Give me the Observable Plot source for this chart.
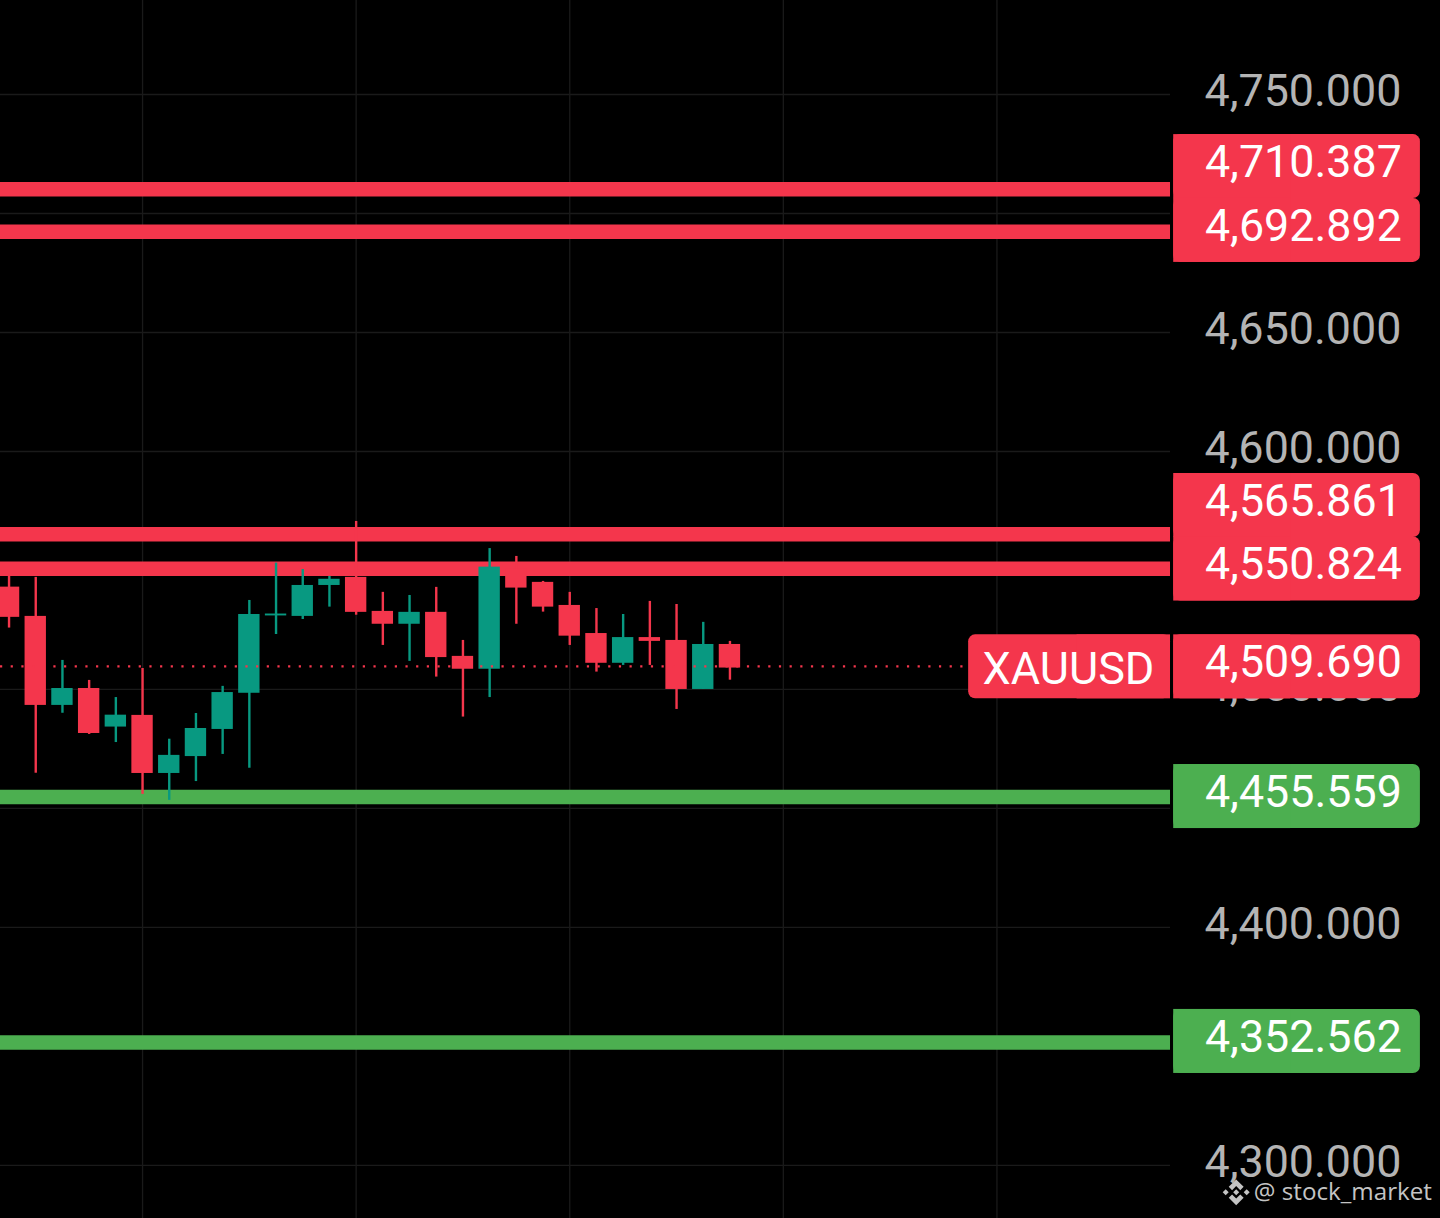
<!DOCTYPE html>
<html>
<head>
<meta charset="utf-8">
<script src="https://cdn.jsdelivr.net/npm/d3@7"></script>
<script src="https://cdn.jsdelivr.net/npm/@observablehq/plot@0.6"></script>
<style>
html,body{margin:0;padding:0;background:#000;}
svg{display:block;}
</style>
</head>
<body>
<div id="chart"></div>
<script>
// Candles
const open  = [4543.0,4530.7,4493.3,4500.4,4484.2,4489.1,4464.7,4471.8,4483.2,4498.4,4530.9,4530.7,4543.7,4547.1,4532.8,4527.4,4532.4,4513.9,4508.5,4550.8,4545.0,4535.3,4523.5,4511.0,4521.8,4520.6,4500.0,4518.9];
const close = [4530.3,4493.3,4500.4,4481.5,4489.2,4464.7,4472.3,4483.6,4498.7,4531.5,4531.7,4543.7,4546.3,4532.4,4527.4,4532.4,4513.4,4508.5,4551.4,4542.6,4534.6,4522.4,4511.0,4521.8,4520.2,4500.0,4518.9,4509.0];
const high  = [4547.9,4547.1,4512.2,4503.8,4496.6,4508.8,4479.1,4489.9,4501.3,4537.4,4553.1,4550.4,4547.5,4570.6,4540.8,4539.5,4542.9,4520.6,4559.2,4555.9,4545.4,4540.8,4534.0,4531.5,4537.0,4535.7,4528.2,4520.2];
const low   = [4525.8,4464.8,4490.0,4481.1,4477.7,4455.9,4453.4,4461.3,4472.7,4466.9,4523.1,4529.4,4534.6,4531.2,4518.5,4511.8,4505.2,4488.4,4496.6,4527.4,4532.5,4518.5,4507.3,4510.1,4510.1,4491.6,4500.0,4503.9];
const candles = open.map((o,i)=>({i,o,c:close[i],h:high[i],l:low[i],up:close[i]>=o}));

// Horizontal levels
const levelPrice = [4710.2,4692.3,4565.2,4550.7,4454.8,4351.7];
const levelKind  = ["r","r","r","r","g","g"];
const levels = levelPrice.map((y,i)=>({y,kind:levelKind[i]}));

// Price tags
const tagText   = ["4,710.387","4,692.892","4,565.861","4,550.824","4,509.690","4,455.559","4,352.562"];
const tagCentre = [4719.7,4692.9,4577.3,4550.6,4509.5,4455.0,4352.1];
const tagKind   = ["r","r","r","r","r","g","g"];
const tags = tagText.map((t,i)=>({t,y:tagCentre[i],kind:tagKind[i]}));

const lastPrice = 4509.69;
const symbol = "XAUUSD";
const yGrid = [4300,4350,4400,4450,4500,4550,4600,4650,4700,4750];
const yLabels = [4300,4400,4500,4600,4650,4750];
const xGrid = [5,13,21,29,37];
const watermark = "@ stock_market";

const RED="#F4364C", GREEN="#4CAF50", TEAL="#089981", GRID="#1a1a1a";
const col = k => k==="r"?RED:GREEN;
const FONT="Roboto, sans-serif";
const tagH = 13.45;   // half tag height, price units
const wmY = 4288.7, logoX = 45.96, MARK="#c4c4c4";

const chevronUp = {draw(ctx,size){const r=Math.sqrt(size);
  ctx.moveTo(0,-r);ctx.lineTo(r,0);ctx.lineTo(r*0.55,r*0.45);ctx.lineTo(0,-r*0.1);ctx.lineTo(-r*0.55,r*0.45);ctx.lineTo(-r,0);ctx.closePath();}};
const chevronDown = {draw(ctx,size){const r=Math.sqrt(size);
  ctx.moveTo(0,r);ctx.lineTo(r,0);ctx.lineTo(r*0.55,-r*0.45);ctx.lineTo(0,r*0.1);ctx.lineTo(-r*0.55,-r*0.45);ctx.lineTo(-r,0);ctx.closePath();}};

const chart = Plot.plot({
  width:1440,height:1218,
  marginTop:0,marginBottom:0,marginLeft:0,marginRight:270,
  style:{background:"#000",fontFamily:FONT,overflow:"visible"},
  x:{type:"linear",domain:[-0.32,43.5],axis:null},
  y:{type:"linear",domain:[4277.7,4789.5],axis:null},
  marks:[
    Plot.gridY(yGrid,{stroke:GRID,strokeOpacity:1,strokeWidth:1.3}),
    Plot.gridX(xGrid,{stroke:GRID,strokeOpacity:1,strokeWidth:1.3}),
    Plot.axisY(yLabels,{anchor:"right",tickSize:0,tickPadding:34,fontSize:44.8,fill:"#b4b4b4",dy:-3,
      tickFormat:d=>d3.format(",.3f")(d),label:null}),
    Plot.ruleY(levels,{y:"y",x1:-0.32,x2:43.5,stroke:d=>col(d.kind),strokeWidth:14.5}),
    Plot.ruleX(candles,{x:"i",y1:"l",y2:"h",stroke:d=>d.up?TEAL:RED,strokeWidth:2.4}),
    Plot.rect(candles,{x1:d=>d.i-0.4,x2:d=>d.i+0.4,y1:"o",y2:"c",fill:d=>d.up?TEAL:RED}),
    Plot.ruleY([lastPrice],{x1:-0.32,x2:35.94,stroke:RED,strokeWidth:2.4,strokeDasharray:"2.2,8.47"}),
    // Price tags: rounded body plus square left half
    Plot.rect(tags,{x1:43.62,x2:52.86,y1:d=>d.y-tagH,y2:d=>d.y+tagH,fill:d=>col(d.kind),rx:7}),
    Plot.rect(tags,{x1:43.62,x2:48,y1:d=>d.y-tagH,y2:d=>d.y+tagH,fill:d=>col(d.kind)}),
    Plot.text(tags,{x:44.79,y:"y",text:"t",textAnchor:"start",lineAnchor:"middle",dy:-4,fontSize:44.8,fill:"#fff"}),
    // Symbol tag
    Plot.rect([lastPrice],{x1:35.94,x2:43.5,y1:4509.5-tagH,y2:4509.5+tagH,fill:RED,rx:7}),
    Plot.rect([lastPrice],{x1:40,x2:43.5,y1:4509.5-tagH,y2:4509.5+tagH,fill:RED}),
    Plot.text([symbol],{x:39.68,y:4509.5,text:d=>d,textAnchor:"middle",lineAnchor:"middle",fontSize:45,fill:"#fff",dy:2.5}),
    // Watermark
    Plot.text([watermark],{x:46.62,y:wmY,text:d=>d,textAnchor:"start",lineAnchor:"middle",fontFamily:"'Open Sans', sans-serif",fontSize:24.2,fill:MARK}),
    Plot.dot([0],{x:logoX,y:wmY,r:2.7,symbol:"diamond2",fill:MARK}),
    Plot.dot([0],{x:logoX,y:wmY,r:2.7,dx:-10.5,symbol:"diamond2",fill:MARK}),
    Plot.dot([0],{x:logoX,y:wmY,r:2.7,dx:10.5,symbol:"diamond2",fill:MARK}),
    Plot.dot([0],{x:logoX,y:wmY,r:4.2,dy:-5.5,symbol:chevronUp,fill:MARK}),
    Plot.dot([0],{x:logoX,y:wmY,r:4.2,dy:5.5,symbol:chevronDown,fill:MARK})
  ]
});
document.getElementById("chart").appendChild(chart);
</script>
</body>
</html>
